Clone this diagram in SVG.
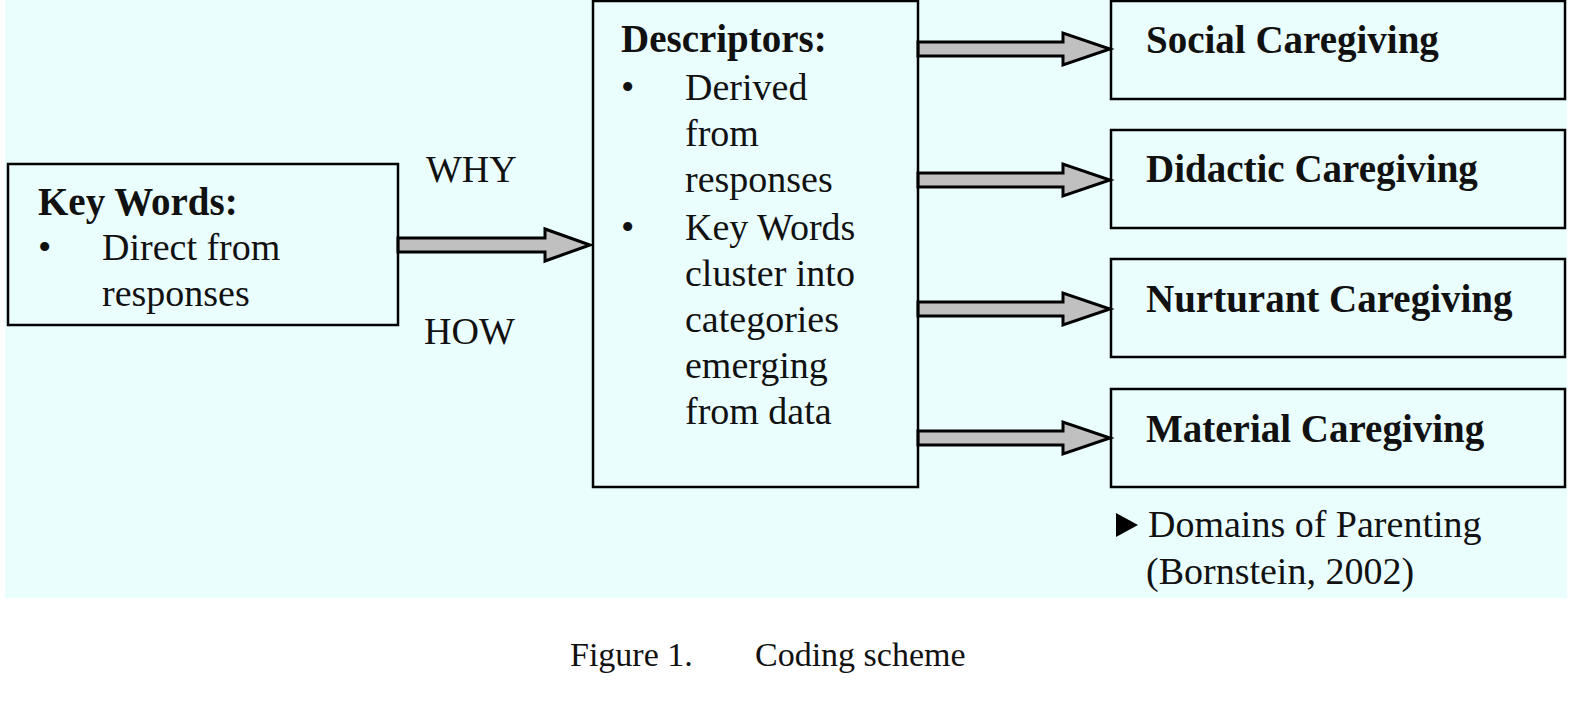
<svg xmlns="http://www.w3.org/2000/svg" width="1594" height="705" viewBox="0 0 1594 705">
<style>
.box{fill:none;stroke:#000;stroke-width:2.5}
.arr{fill:#c0c0c0;stroke:#000;stroke-width:3;stroke-linejoin:miter}
text{font-family:"Liberation Serif","Times New Roman",serif;font-size:38px;fill:#111}
.b{font-weight:bold;font-size:39px}
</style>
<rect x="0" y="0" width="1594" height="705" fill="#fff"/>
<rect x="5" y="0" width="1562" height="598" fill="#eafefe"/>
<g id="connectors">
<polygon class="arr" points="398,238 545,238 545,229 590,245 545,261 545,252 398,252"/>
<polygon class="arr" points="918,42 1063,42 1063,33 1110,49 1063,65 1063,56 918,56"/>
<polygon class="arr" points="918,173 1063,173 1063,164 1110,180 1063,196 1063,187 918,187"/>
<polygon class="arr" points="918,302 1063,302 1063,293 1110,309 1063,325 1063,316 918,316"/>
<polygon class="arr" points="918,431 1063,431 1063,422 1110,438 1063,454 1063,445 918,445"/>
</g>
<g id="keywords">
<rect class="box" x="8" y="164" width="390" height="161"/>
<text x="38" y="215" class="b">Key Words:</text>
<text x="38" y="260">•</text>
<text x="102" y="260">Direct from</text>
<text x="102" y="306">responses</text>
</g>
<g id="why"><text x="426" y="182">WHY</text></g>
<g id="how"><text x="424" y="344">HOW</text></g>
<g id="descriptors">
<rect class="box" x="593" y="1" width="325" height="486"/>
<text x="621" y="52" class="b">Descriptors:</text>
<text x="621" y="100">•</text>
<text x="685" y="100">Derived</text>
<text x="685" y="146">from</text>
<text x="685" y="192">responses</text>
<text x="621" y="240">•</text>
<text x="685" y="240">Key Words</text>
<text x="685" y="286">cluster into</text>
<text x="685" y="332">categories</text>
<text x="685" y="378">emerging</text>
<text x="685" y="424">from data</text>
</g>
<g id="social"><rect class="box" x="1111" y="1" width="454" height="98"/><text x="1146" y="53" class="b">Social Caregiving</text></g>
<g id="didactic"><rect class="box" x="1111" y="130" width="454" height="98"/><text x="1146" y="182" class="b">Didactic Caregiving</text></g>
<g id="nurturant"><rect class="box" x="1111" y="259" width="454" height="98"/><text x="1146" y="312" class="b">Nurturant Caregiving</text></g>
<g id="material"><rect class="box" x="1111" y="389" width="454" height="98"/><text x="1146" y="442" class="b">Material Caregiving</text></g>
<g id="note">
<polygon points="1116,513 1116,537 1138,525" fill="#000"/>
<text x="1148" y="537">Domains of Parenting</text>
<text x="1146" y="584">(Bornstein, 2002)</text>
</g>
<text x="570" y="666" style="font-size:34px">Figure 1.</text>
<text x="755" y="666" style="font-size:34px">Coding scheme</text>
</svg>
